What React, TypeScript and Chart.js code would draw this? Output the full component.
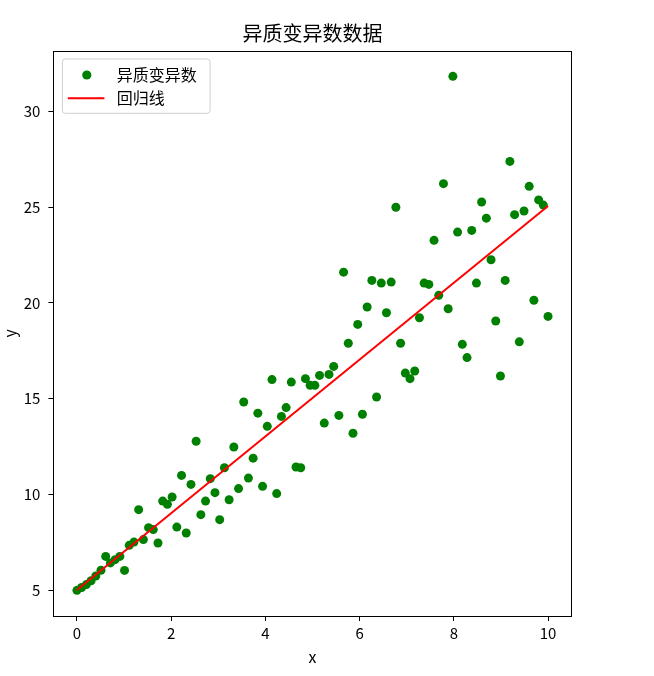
import React, { useEffect, useRef } from "react";
import { Chart, registerables } from "chart.js";

Chart.register(...registerables);

const titleText = "异质变异数数据";
const seriesLabel = "异质变异数";
const lineLabel = "回归线";
const xAxisLabel = "x";
const yAxisLabel = "y";

const xValues = [
  0.0, 0.1, 0.2, 0.3, 0.4, 0.51, 0.61, 0.71, 0.81, 0.91,
  1.01, 1.11, 1.21, 1.31, 1.41, 1.52, 1.62, 1.72, 1.82, 1.92,
  2.02, 2.12, 2.22, 2.32, 2.42, 2.53, 2.63, 2.73, 2.83, 2.93,
  3.03, 3.13, 3.23, 3.33, 3.43, 3.54, 3.64, 3.74, 3.84, 3.94,
  4.04, 4.14, 4.24, 4.34, 4.44, 4.55, 4.65, 4.75, 4.85, 4.95,
  5.05, 5.15, 5.25, 5.35, 5.45, 5.56, 5.66, 5.76, 5.86, 5.96,
  6.06, 6.16, 6.26, 6.36, 6.46, 6.57, 6.67, 6.77, 6.87, 6.97,
  7.07, 7.17, 7.27, 7.37, 7.47, 7.58, 7.68, 7.78, 7.88, 7.98,
  8.08, 8.18, 8.28, 8.38, 8.48, 8.59, 8.69, 8.79, 8.89, 8.99,
  9.09, 9.19, 9.29, 9.39, 9.49, 9.6, 9.7, 9.8, 9.9, 10.0,
];

const yValues = [
  5.0, 5.15, 5.3, 5.5, 5.75, 6.05, 6.77, 6.43, 6.6, 6.77,
  6.04, 7.35, 7.52, 9.21, 7.65, 8.27, 8.17, 7.47, 9.66, 9.49,
  9.87, 8.3, 11.0, 7.99, 10.53, 12.78, 8.95, 9.66, 10.83, 10.1,
  8.69, 11.4, 9.73, 12.48, 10.31, 14.83, 10.86, 11.9, 14.25, 10.43,
  13.56, 16.0, 10.05, 14.08, 14.54, 15.87, 11.44, 11.4, 16.05, 15.7,
  15.7, 16.22, 13.73, 16.27, 16.69, 14.13, 21.61, 17.9, 13.2, 18.88,
  14.19, 19.79, 21.18, 15.09, 21.04, 19.49, 21.09, 25.0, 17.9, 16.34,
  16.05, 16.45, 19.23, 21.04, 20.97, 23.27, 20.4, 26.23, 19.7, 31.83,
  23.7, 17.84, 17.15, 23.79, 21.04, 25.27, 24.43, 22.26, 19.06, 16.19,
  21.18, 27.39, 24.61, 17.97, 24.8, 26.09, 20.14, 25.38, 25.11, 19.3,
];

const lineX = [0, 10];
const lineY = [5.02, 25.06];

const xTicks = [0, 2, 4, 6, 8, 10];
const yTicks = [5, 10, 15, 20, 25, 30];

const W = 654;
const H = 676;
const AREA = { left: 53.4, right: 571.6, top: 50.7, bottom: 616 };
const FONT = '"Noto Sans CJK SC", "Noto Sans", sans-serif';
// right-side layout padding chosen so the title centres over the plot area
const PAD_RIGHT = W - 2 * ((AREA.left + AREA.right) / 2);
const RIGHT_GAP = W - AREA.right - PAD_RIGHT;

const framePlugin = {
  id: "frameAndLegend",
  afterDatasetsDraw(chart: any) {
    const { ctx, chartArea } = chart;
    ctx.save();
    ctx.strokeStyle = "#000";
    ctx.lineWidth = 1;
    ctx.strokeRect(
      Math.round(chartArea.left) + 0.5,
      Math.round(chartArea.top) + 0.5,
      Math.round(chartArea.right - chartArea.left),
      Math.round(chartArea.bottom - chartArea.top)
    );

    // legend
    const bx = chartArea.left + 9;
    const by = chartArea.top + 8.3;
    const bw = 147.7;
    const bh = 54.3;
    const r = 3;
    ctx.beginPath();
    ctx.moveTo(bx + r, by);
    ctx.lineTo(bx + bw - r, by);
    ctx.arcTo(bx + bw, by, bx + bw, by + r, r);
    ctx.lineTo(bx + bw, by + bh - r);
    ctx.arcTo(bx + bw, by + bh, bx + bw - r, by + bh, r);
    ctx.lineTo(bx + r, by + bh);
    ctx.arcTo(bx, by + bh, bx, by + bh - r, r);
    ctx.lineTo(bx, by + r);
    ctx.arcTo(bx, by, bx + r, by, r);
    ctx.closePath();
    ctx.fillStyle = "rgba(255,255,255,0.8)";
    ctx.fill();
    ctx.strokeStyle = "#d0d0d0";
    ctx.stroke();

    const row1 = by + 16;
    const row2 = by + 39.3;
    ctx.fillStyle = "green";
    ctx.beginPath();
    ctx.arc(bx + 24.4, row1, 4.6, 0, Math.PI * 2);
    ctx.fill();

    ctx.strokeStyle = "red";
    ctx.lineWidth = 2;
    ctx.beginPath();
    ctx.moveTo(bx + 5.4, row2);
    ctx.lineTo(bx + 42, row2);
    ctx.stroke();

    ctx.fillStyle = "#000";
    ctx.font = `16px ${FONT}`;
    ctx.textBaseline = "middle";
    ctx.textAlign = "left";
    ctx.fillText(seriesLabel, bx + 54.4, row1);
    ctx.fillText(lineLabel, bx + 54.4, row2);
    ctx.restore();
  },
};

export default function App() {
  const ref = useRef<HTMLCanvasElement | null>(null);

  useEffect(() => {
    if (!ref.current) return;
    const scatterData = xValues.map((x, i) => ({ x, y: yValues[i] }));
    const lineData = lineX.map((x, i) => ({ x, y: lineY[i] }));
    const tickFont = { family: FONT, size: 15 };

    const chart = new Chart(ref.current, {
      type: "scatter",
      data: {
        datasets: [
          {
            type: "line",
            label: lineLabel,
            data: lineData,
            borderColor: "red",
            borderWidth: 2,
            pointRadius: 0,
            showLine: true,
            fill: false,
            order: 0,
          } as any,
          {
            type: "scatter",
            label: seriesLabel,
            data: scatterData,
            backgroundColor: "green",
            borderWidth: 0,
            pointRadius: 4.5,
            pointHoverRadius: 4.5,
            order: 1,
          },
        ],
      },
      options: {
        responsive: false,
        animation: false,
        devicePixelRatio: 1,
        layout: { padding: { left: 0, right: PAD_RIGHT, top: 0, bottom: 0 } },
        plugins: {
          legend: { display: false },
          tooltip: { enabled: false },
          title: {
            display: true,
            text: titleText,
            color: "#000",
            font: { family: FONT, size: 20, weight: "normal" },
            padding: { top: 21.3, bottom: 5.4 },
          },
        },
        scales: {
          x: {
            type: "linear",
            min: -0.5,
            max: 10.5,
            afterBuildTicks: (s: any) => {
              s.ticks = xTicks.map((v) => ({ value: v }));
            },
            afterFit: (s: any) => {
              s.height = H - AREA.bottom;
            },
            ticks: {
              color: "#000",
              font: tickFont,
              padding: 3,
              maxRotation: 0,
              autoSkip: false,
              includeBounds: false,
            },
            grid: {
              display: true,
              drawOnChartArea: false,
              drawTicks: true,
              tickLength: 5,
              tickColor: "#000",
              color: "#000",
            },
            border: { display: false },
            title: {
              display: true,
              text: xAxisLabel,
              color: "#000",
              font: { family: FONT, size: 16 },
              padding: { top: 0, bottom: 9.7 },
            },
          },
          y: {
            type: "linear",
            min: 3.66,
            max: 33.17,
            afterBuildTicks: (s: any) => {
              s.ticks = yTicks.map((v) => ({ value: v }));
            },
            afterFit: (s: any) => {
              s.width = AREA.left;
            },
            ticks: {
              color: "#000",
              font: tickFont,
              padding: 8,
              autoSkip: false,
              includeBounds: false,
            },
            grid: {
              display: true,
              drawOnChartArea: false,
              drawTicks: true,
              tickLength: 5,
              tickColor: "#000",
              color: "#000",
            },
            border: { display: false },
            title: {
              display: true,
              text: yAxisLabel,
              color: "#000",
              font: { family: FONT, size: 16 },
              padding: { top: 0.4, bottom: 0 },
            },
          },
          yRight: {
            type: "linear",
            position: "right",
            display: true,
            min: 3.66,
            max: 33.17,
            afterFit: (s: any) => {
              s.width = RIGHT_GAP;
            },
            ticks: { display: false },
            grid: { display: false },
            border: { display: false },
          },
        },
      },
      plugins: [framePlugin],
    });
    return () => chart.destroy();
  }, []);

  return (
    <div style={{ position: "fixed", left: 0, top: 0, width: W, height: H, background: "#fff" }}>
      <canvas ref={ref} width={W} height={H} style={{ display: "block" }} />
    </div>
  );
}
